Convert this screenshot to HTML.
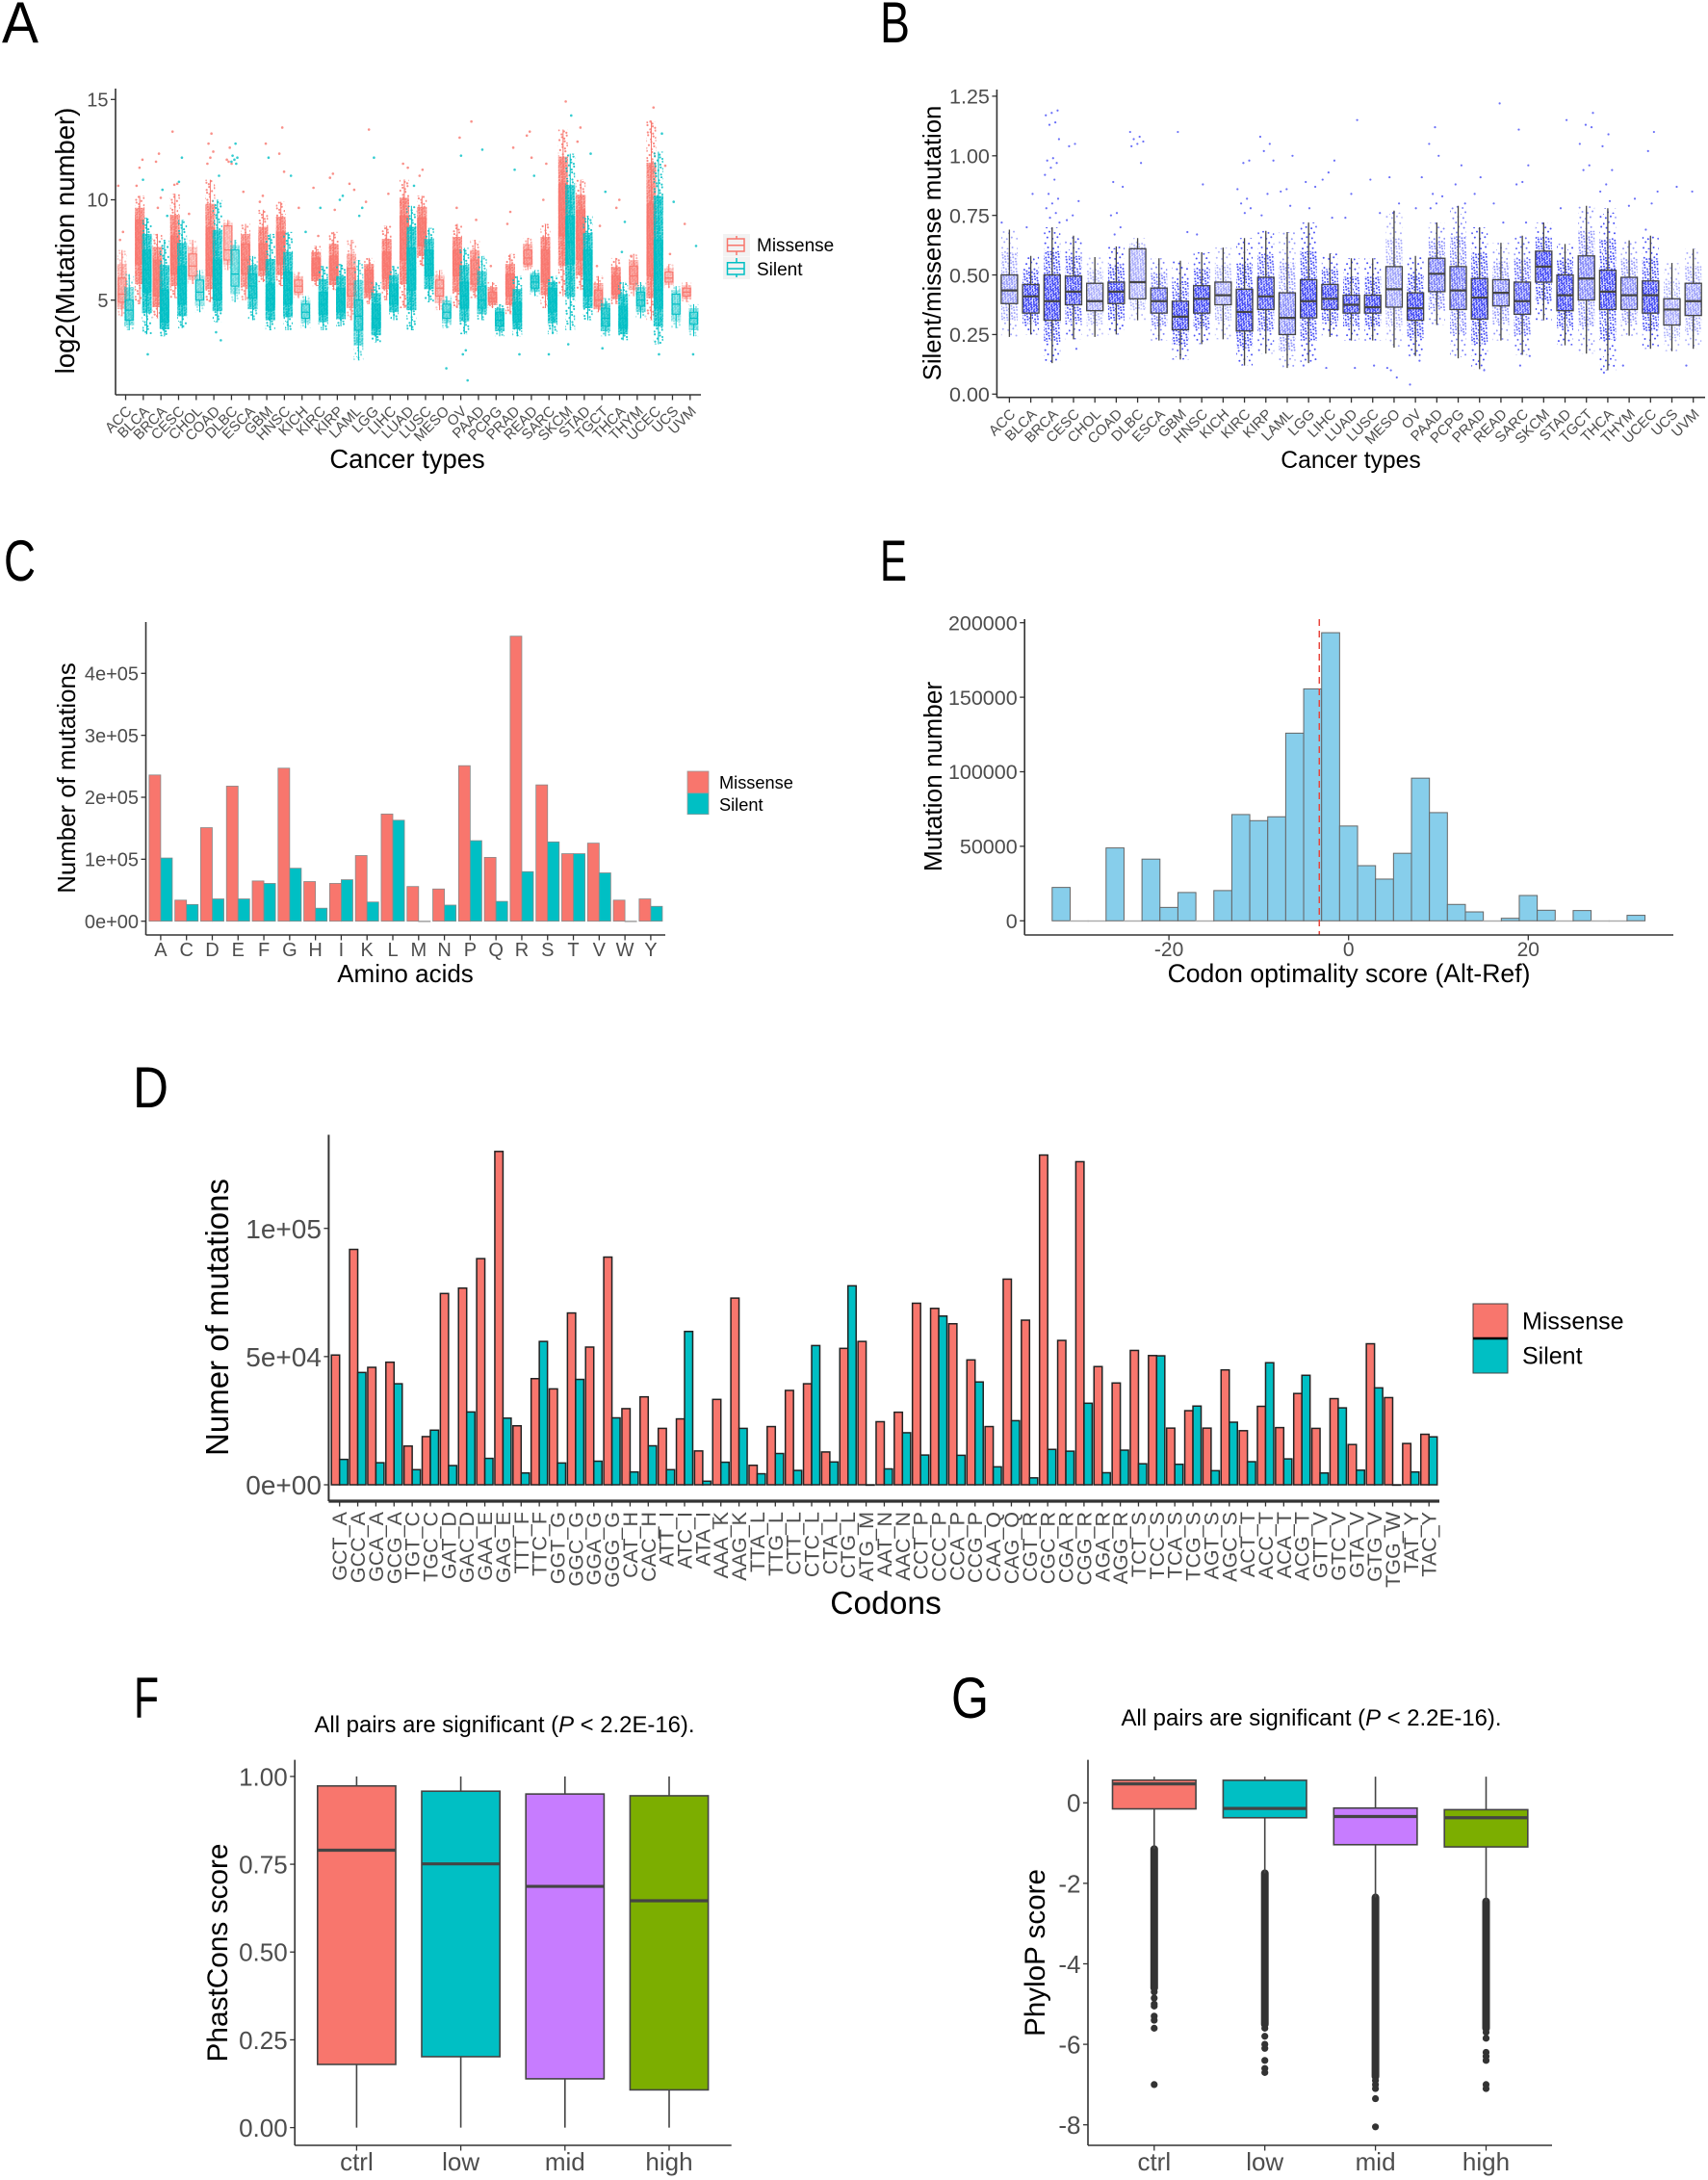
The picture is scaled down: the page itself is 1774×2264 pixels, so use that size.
<!DOCTYPE html>
<html lang="en">
<head>
<meta charset="utf-8">
<title>Mutation analysis figure panels</title>
<style>
html,body{margin:0;padding:0;background:#fff}
svg{display:block;font-family:"Liberation Sans",sans-serif}
</style>
</head>
<body>
<svg id="figure" xmlns="http://www.w3.org/2000/svg" width="1774" height="2264" viewBox="0 0 1774 2264">
<defs id="defs"></defs>
<rect width="1774" height="2264" fill="#fff"/>

<g font-size="60" fill="#000">
<text x="2" y="44" textLength="38" lengthAdjust="spacingAndGlyphs">A</text>
<text x="914" y="44" textLength="31" lengthAdjust="spacingAndGlyphs">B</text>
<text x="4" y="603" textLength="33" lengthAdjust="spacingAndGlyphs">C</text>
<text x="914" y="603" textLength="28" lengthAdjust="spacingAndGlyphs">E</text>
<text x="138" y="1150" textLength="37" lengthAdjust="spacingAndGlyphs">D</text>
<text x="139" y="1784" textLength="26" lengthAdjust="spacingAndGlyphs">F</text>
<text x="988" y="1784" textLength="39" lengthAdjust="spacingAndGlyphs">G</text>
</g>

<g id="panelA">
<text transform="translate(77,250) rotate(-90)" text-anchor="middle" font-size="27.5" fill="#000">log2(Mutation number)</text>
<text x="423" y="486" text-anchor="middle" font-size="27.4" fill="#000">Cancer types</text>
<g>
<rect x="751" y="243" width="28" height="23.5" fill="#f2f2f2"/>
<rect x="751" y="267" width="28" height="23" fill="#f2f2f2"/>
<path d="M765 245V248M765 261V265M755.500 248H773V261H755.500ZM755.500 254.700H773" fill="none" stroke="#F8766D" stroke-width="1.500"/>
<path d="M765 268V272.700M765 285V288M755.500 272.700H773V285H755.500ZM755.500 279H773" fill="none" stroke="#00BFC4" stroke-width="1.500"/>
<text x="786" y="261" font-size="19">Missense</text>
<text x="786" y="286" font-size="19">Silent</text>
</g>
</g>

<g id="panelB">
<text transform="translate(977,252.500) rotate(-90)" text-anchor="middle" font-size="25.700" fill="#000">Silent/missense mutation</text>
<text x="1403" y="486" text-anchor="middle" font-size="24.700" fill="#000">Cancer types</text>
</g>

<g id="panelC">
<text transform="translate(78,808) rotate(-90)" text-anchor="middle" font-size="25.800" fill="#000">Number of mutations</text>
<text x="421" y="1020" text-anchor="middle" font-size="26" fill="#000">Amino acids</text>
<g>
<rect x="714" y="801" width="22" height="22.700" fill="#F8766D" stroke="#999" stroke-width="0.800"/>
<rect x="714" y="823.700" width="22" height="22" fill="#00BFC4" stroke="#999" stroke-width="0.800"/>
<text x="747" y="819" font-size="18.200">Missense</text>
<text x="747" y="842" font-size="18.200">Silent</text>
</g>
</g>

<g id="panelE">
<text transform="translate(978,806.500) rotate(-90)" text-anchor="middle" font-size="26.300" fill="#000">Mutation number</text>
<text x="1401" y="1020" text-anchor="middle" font-size="26.600" fill="#000">Codon optimality score (Alt-Ref)</text>
</g>

<g id="panelD">
<text transform="translate(237,1368) rotate(-90)" text-anchor="middle" font-size="33" fill="#000">Numer of mutations</text>
<text x="920" y="1676" text-anchor="middle" font-size="33.500" fill="#000">Codons</text>
<g>
<rect x="1530" y="1354" width="36" height="36" fill="#F8766D" stroke="#444" stroke-width="1"/>
<rect x="1530" y="1390" width="36" height="36" fill="#00BFC4" stroke="#444" stroke-width="1"/>
<line x1="1530" x2="1566" y1="1390" y2="1390" stroke="#000" stroke-width="2.500"/>
<text x="1581" y="1380.500" font-size="25">Missense</text>
<text x="1581" y="1416.500" font-size="25">Silent</text>
</g>
</g>

<g id="panelF">
<text x="524" y="1799" text-anchor="middle" font-size="23.900" fill="#000">All pairs are significant (<tspan font-style="italic">P</tspan> &lt; 2.2E-16).</text>
<text transform="translate(236,2028) rotate(-90)" text-anchor="middle" font-size="29.800" fill="#000">PhastCons score</text>
</g>

<g id="panelG">
<text x="1362" y="1792" text-anchor="middle" font-size="23.900" fill="#000">All pairs are significant (<tspan font-style="italic">P</tspan> &lt; 2.2E-16).</text>
<text transform="translate(1085,2028) rotate(-90)" text-anchor="middle" font-size="29.600" fill="#000">PhyloP score</text>
</g>
</svg>

<script>
/* ===== Panels A and B: shared categories ===== */
const cancerTypes = ["ACC","BLCA","BRCA","CESC","CHOL","COAD","DLBC","ESCA","GBM","HNSC","KICH","KIRC","KIRP","LAML","LGG","LIHC","LUAD","LUSC","MESO","OV","PAAD","PCPG","PRAD","READ","SARC","SKCM","STAD","TGCT","THCA","THYM","UCEC","UCS","UVM"];
const sampleCounts = [90,400,1000,290,50,400,48,180,390,500,65,360,280,130,500,360,560,480,80,400,170,180,490,130,240,470,430,145,490,120,530,57,80];

/* Panel A: five-number summaries (log2 units) */
const missenseLo  = [4.2,4.8,4.1,5.1,5.8,4.9,6.5,5.0,5.9,5.7,5.1,5.7,5.5,4.0,4.8,5.0,4.6,6.7,4.5,4.6,5.1,4.6,4.3,6.5,4.6,5.2,5.5,4.4,4.8,5.2,4.0,5.6,4.9];
const missenseQ1  = [4.9,6.8,5.2,6.3,6.2,6.2,7.0,6.3,6.5,6.8,5.4,6.2,6.0,5.2,5.4,6.1,7.0,7.7,5.2,6.2,5.8,4.9,5.2,6.8,5.9,8.2,7.0,4.7,5.3,5.8,6.2,5.9,5.2];
const missenseMed = [5.3,8.0,6.0,7.2,6.7,7.0,7.5,7.0,7.0,7.5,5.7,6.6,6.5,5.8,5.9,6.7,8.0,8.4,5.6,6.8,6.3,5.1,5.6,7.1,6.8,9.5,8.0,5.0,5.7,6.2,7.8,6.1,5.4];
const missenseQ3  = [6.1,9.0,7.0,8.2,7.3,8.6,8.7,7.8,7.8,8.4,6.0,7.1,7.2,6.6,6.5,7.4,9.2,9.1,6.0,7.5,7.0,5.4,6.3,7.5,7.5,10.8,9.5,5.5,6.2,6.7,9.8,6.4,5.6];
const missenseHi  = [7.5,10.2,8.3,10.3,8.0,11.0,9.0,8.8,9.5,9.9,6.4,7.7,8.4,8.0,7.1,8.7,11.0,10.2,6.5,8.8,8.0,5.9,7.3,8.1,8.8,13.5,11.0,6.2,7.1,7.3,13.9,6.8,5.9];
const silentLo    = [3.5,3.3,3.2,3.6,4.4,3.9,4.9,4.0,3.5,3.5,3.6,3.5,3.7,2.0,2.9,4.0,3.5,4.9,3.6,3.3,4.0,3.2,3.2,5.2,3.3,3.5,4.0,3.2,3.0,4.1,2.8,3.6,3.2];
const silentQ1    = [4.0,5.4,3.9,4.8,5.0,5.0,5.7,5.1,4.5,4.8,4.1,4.3,4.4,3.5,3.6,4.8,5.5,6.2,4.1,4.6,4.6,3.7,3.9,5.6,4.4,6.8,5.2,3.7,3.6,4.7,4.6,4.3,3.8];
const silentMed   = [4.5,6.5,4.6,5.8,5.4,5.8,6.3,5.7,5.1,5.5,4.4,4.8,4.9,4.2,4.1,5.2,6.5,6.8,4.4,5.2,5.0,4.0,4.3,5.9,4.9,7.9,6.0,4.1,4.1,5.0,5.5,4.8,4.1];
const silentQ3    = [5.0,7.5,5.5,6.7,6.0,7.0,7.5,6.3,5.8,6.4,4.8,5.4,5.6,5.0,4.8,5.8,7.6,7.5,4.8,5.9,5.7,4.4,4.9,6.2,5.6,9.2,7.5,4.6,4.7,5.4,8.0,5.3,4.4];
const silentHi    = [6.3,9.1,8.0,9.0,6.5,10.0,8.0,7.2,8.3,8.4,5.2,6.7,6.8,7.0,5.9,6.7,9.7,8.6,5.2,7.6,7.2,4.8,6.2,6.5,6.2,12.3,9.2,5.1,5.9,5.9,12.4,5.7,4.8];
/* Individually visible outliers: [category index, log2 value] */
const missenseOutliers = [[0,10.7],[0,8.4],[0,8],[1,12],[1,11.6],[1,10.7],[2,12.3],[2,11.9],[2,10.1],[2,9.6],[3,13.4],[3,10.8],[3,10.75],[4,9.3],[5,13.3],[5,12.8],[5,12.4],[5,12.1],[5,11.8],[6,12.6],[6,12],[6,11.8],[6,11.9],[7,10.4],[8,12.8],[8,10.2],[8,9.9],[9,13.6],[9,12.3],[9,11.4],[10,9.6],[11,10.6],[11,8.2],[12,11.3],[12,11.1],[12,9.5],[13,10.8],[13,10.5],[14,13.5],[14,9.9],[15,10.3],[16,11.8],[16,11.6],[17,11.5],[17,11.2],[19,13.1],[19,9.6],[20,13.9],[20,9],[21,6.7],[22,12.6],[22,9.4],[22,8.8],[23,13.4],[23,13.2],[23,12.1],[24,11.8],[24,10],[25,14.9],[26,13.6],[26,12.9],[27,8.7],[27,6.7],[28,10],[28,9.6],[29,7.2],[30,14.6],[30,13.9],[31,11.7],[31,7.3],[32,8.8]];
const silentOutliers = [[1,11],[1,2.3],[2,10.5],[2,9.2],[3,12.1],[3,10.9],[5,11.2],[5,3.4],[5,3],[6,12.8],[6,12.2],[6,12.1],[6,12],[6,11.9],[6,11.8],[8,12.1],[9,11.2],[10,8.4],[11,9.6],[12,10.2],[12,10],[13,9.6],[13,9.2],[14,12.1],[16,10.7],[18,1.6],[19,12.2],[19,2.5],[19,2.3],[19,1],[20,12.5],[22,11.5],[22,2.3],[23,11.2],[24,2.3],[25,14.2],[25,2.8],[26,12.3],[27,10.4],[27,2.6],[28,8.9],[28,7.4],[30,13.3],[30,2.3],[31,9.9],[32,7.7],[32,2.3]];
const panelATicks = [5,10,15];

/* Panel B: box statistics per cancer type (silent / missense ratio) */
const ratioWhiskerLo = [.24,.25,.13,.23,.24,.25,.31,.225,.145,.21,.23,.12,.17,.11,.13,.24,.225,.225,.195,.16,.29,.15,.105,.225,.165,.31,.205,.17,.10,.245,.19,.18,.19];
const ratioQ1        = [.38,.34,.31,.375,.35,.38,.40,.34,.27,.34,.375,.265,.355,.25,.32,.355,.34,.34,.365,.31,.43,.355,.315,.37,.335,.47,.35,.395,.355,.355,.34,.29,.33];
const ratioMedian    = [.435,.41,.39,.43,.39,.43,.47,.39,.325,.40,.415,.345,.41,.32,.39,.40,.375,.365,.44,.36,.505,.435,.405,.425,.39,.535,.415,.485,.43,.415,.415,.355,.39];
const ratioQ3        = [.50,.46,.50,.495,.465,.47,.61,.445,.39,.455,.47,.44,.49,.425,.48,.46,.415,.415,.535,.425,.57,.535,.485,.48,.47,.60,.50,.58,.52,.49,.475,.40,.465];
const ratioWhiskerHi = [.69,.58,.70,.665,.575,.62,.655,.57,.56,.595,.615,.655,.685,.68,.72,.59,.57,.57,.77,.58,.72,.79,.70,.635,.665,.72,.63,.79,.78,.645,.665,.55,.61];
const ratioOutliers = [[0,.72],[1,.84],[1,.70],[2,1.19],[2,1.18],[2,1.17],[2,1.14],[2,1.13],[2,1.07],[2,.99],[2,.98],[2,.97],[2,.95],[2,.92],[2,.90],[2,.84],[2,.82],[2,.80],[2,.78],[2,.76],[2,.74],[2,.72],[3,1.05],[3,1.04],[3,.81],[3,.75],[3,.73],[3,.19],[5,.89],[5,.87],[5,.76],[5,.75],[5,.70],[5,.67],[6,1.10],[6,1.08],[6,1.07],[6,1.06],[6,1.05],[6,1.04],[6,.97],[8,1.10],[8,.68],[9,.88],[9,.67],[11,.98],[11,.97],[11,.86],[11,.82],[11,.80],[11,.78],[11,.76],[12,1.08],[12,1.05],[12,1.02],[12,.98],[12,.84],[12,.75],[13,1.00],[13,.86],[13,.85],[13,.79],[14,.89],[14,.87],[14,.78],[14,.12],[15,.98],[15,.93],[15,.90],[15,.74],[15,.11],[16,1.15],[16,.84],[16,.74],[16,.11],[17,.90],[17,.76],[17,.12],[18,.91],[18,.80],[18,.76],[18,.11],[18,.07],[18,.10],[19,.91],[19,.78],[19,.04],[19,.14],[20,1.12],[20,1.05],[20,1.00],[20,.84],[20,.83],[20,.80],[20,.78],[21,.96],[21,.88],[21,.80],[22,.91],[22,.84],[22,.10],[23,1.22],[23,.80],[23,.72],[24,1.11],[24,.96],[24,.89],[24,.88],[24,.72],[24,.12],[24,.16],[26,1.15],[26,.78],[27,1.12],[27,1.13],[27,1.05],[27,.96],[27,.94],[27,1.18],[28,1.09],[28,1.04],[28,.94],[28,.88],[28,.85],[28,.81],[28,.09],[29,.82],[29,.79],[29,.12],[30,1.10],[30,1.02],[30,.85],[30,.80],[30,.69],[31,.87],[32,.85],[32,.12]];
const panelBTicks = [0,.25,.5,.75,1,1.25];
const panelBTickLabels = ["0.00","0.25","0.50","0.75","1.00","1.25"];

/* Panel C */
const aminoAcids = ["A","C","D","E","F","G","H","I","K","L","M","N","P","Q","R","S","T","V","W","Y"];
const aminoMissense = [236000,34000,151000,218000,65000,247000,64000,61000,106000,173000,56000,52000,251000,103000,460000,220000,109000,126000,34000,36000];
const aminoSilent = [102000,27000,36000,36000,61000,85500,21000,67000,31000,163000,0,26000,130000,32000,80000,128000,109000,78000,0,24000];
const panelCTicks = [0,100000,200000,300000,400000];
const panelCTickLabels = ["0e+00","1e+05","2e+05","3e+05","4e+05"];

/* Panel E */
const binCenters = [-32,-30,-28,-26,-24,-22,-20,-18,-16,-14,-12,-10,-8,-6,-4,-2,0,2,4,6,8,10,12,14,16,18,20,22,24,26,28,30,32];
const binCounts = [22400,0,0,48900,0,41400,9000,19000,0,20300,71300,67200,69800,125900,155600,193300,63600,37000,28000,45300,95700,72600,11000,6000,0,1700,17000,7100,0,6900,0,0,3700];
const medianScore = -3.26;
const panelEYTicks = [0,50000,100000,150000,200000];
const panelEXTicks = [-20,0,20];

/* Panel D */
const codons = ["GCT_A","GCC_A","GCA_A","GCG_A","TGT_C","TGC_C","GAT_D","GAC_D","GAA_E","GAG_E","TTT_F","TTC_F","GGT_G","GGC_G","GGA_G","GGG_G","CAT_H","CAC_H","ATT_I","ATC_I","ATA_I","AAA_K","AAG_K","TTA_L","TTG_L","CTT_L","CTC_L","CTA_L","CTG_L","ATG_M","AAT_N","AAC_N","CCT_P","CCC_P","CCA_P","CCG_P","CAA_Q","CAG_Q","CGT_R","CGC_R","CGA_R","CGG_R","AGA_R","AGG_R","TCT_S","TCC_S","TCA_S","TCG_S","AGT_S","AGC_S","ACT_T","ACC_T","ACA_T","ACG_T","GTT_V","GTC_V","GTA_V","GTG_V","TGG_W","TAT_Y","TAC_Y"];
const codonMissense = [50600,91800,45800,47800,15100,18800,74600,76700,88200,130000,23000,41400,37400,67000,53700,88800,29700,34300,22000,25700,13200,33300,72800,7600,22700,36800,39400,12800,53200,55900,24600,28300,70800,68800,62800,48700,22700,80200,64200,128600,56300,126000,46100,39700,52400,50400,22100,28900,22100,44800,21100,30600,22300,35600,22000,33600,15700,55000,34000,16100,19700];
const codonSilent = [9900,43800,8600,39400,5900,21300,7500,28400,10300,26000,4600,55900,8500,41100,9200,26100,5000,15200,5900,59800,1400,8800,22000,4300,12200,5600,54300,8900,77600,0,6200,20300,11600,65800,11500,40100,7000,25000,2700,13800,13100,31800,4700,13500,8200,50300,8000,30700,5500,24400,9000,47600,10100,42700,4600,30000,5700,37800,0,5000,18700];
const panelDTicks = [0,50000,100000];
const panelDTickLabels = ["0e+00","5e+04","1e+05"];

/* Panels F and G */
const scoreGroups = ["ctrl","low","mid","high"];
const groupColors = ["#F8766D","#00BFC4","#C77CFF","#7CAE00"];
const phastQ1 = [.18,.202,.139,.1075];
const phastMedian = [.79,.751,.687,.646];
const phastQ3 = [.973,.958,.95,.945];
const phastWhiskerLo = [0,0,0,0];
const phastWhiskerHi = [1,1,1,1];
const panelFTicks = [0,.25,.5,.75,1];
const panelFTickLabels = ["0.00","0.25","0.50","0.75","1.00"];

const phyloQ1 = [-.15,-.37,-1.04,-1.095];
const phyloMedian = [.47,-.14,-.34,-.37];
const phyloQ3 = [.564,.56,-.13,-.17];
const phyloWhiskerHi = [.65,.65,.65,.65];
const phyloWhiskerLo = [-1.15,-1.75,-2.35,-2.45];
const phyloDenseBottom = [-4.6,-5.5,-6.8,-5.6];
const phyloOutliers = [[-4.7,-4.85,-5,-5.05,-5.3,-5.4,-5.6,-7],[-5.6,-5.8,-6,-6.1,-6.4,-6.6,-6.7],[-6.9,-7,-7.1,-7.35,-8.05],[-5.7,-5.85,-6.2,-6.3,-6.4,-7,-7.1]];
const panelGTicks = [-8,-6,-4,-2,0];

/* ===== Drawing helpers ===== */
const SVGNS = "http://www.w3.org/2000/svg";
const TICK_GREY = "#4d4d4d";
const AXIS_DARK = "#333";

function make(parent, tag, attrs, text) {
  const node = document.createElementNS(SVGNS, tag);
  for (const key in attrs) node.setAttribute(key, attrs[key]);
  if (text !== undefined) node.textContent = text;
  parent.appendChild(node);
  return node;
}
function linear(d0, d1, r0, r1) {
  return function (v) { return r0 + (v - d0) * (r1 - r0) / (d1 - d0); };
}
function drawAxisLines(g, x0, yTop, yBottom, xEnd, width, xWidth) {
  const yAxis = make(g, "line", {x1:x0, x2:x0, y1:yTop, y2:yBottom, stroke:AXIS_DARK, "stroke-width":width});
  
  
  const xAxis = make(g, "line", {x1:x0, x2:xEnd, y1:yBottom, y2:yBottom, stroke:AXIS_DARK, "stroke-width":xWidth || width});
  
  
}
function drawYTicks(g, ticks, labels, y, axisX, size) {
  ticks.forEach(function (t, i) {
    const mark = make(g, "line", {x1:axisX - 5, x2:axisX, y1:y(t), y2:y(t), stroke:AXIS_DARK, "stroke-width":1.3});
    
    
    const label = make(g, "text", {x:axisX - 7.5, y:y(t) + size * 0.36, "text-anchor":"end", "font-size":size, fill:TICK_GREY}, labels[i]);
    
    
  });
}
function drawXTicks(g, positions, labels, x, axisY, size, baselineY, rotation, endOffset) {
  positions.forEach(function (p, i) {
    const mark = make(g, "line", {x1:x(p), x2:x(p), y1:axisY, y2:axisY + 5.5, stroke:AXIS_DARK, "stroke-width":1.3});
    
    
    const attrs = {"font-size":size, fill:TICK_GREY};
    if (rotation) {
      attrs["text-anchor"] = "end";
      attrs.transform = "translate(" + (x(p) + endOffset) + "," + baselineY + ") rotate(" + rotation + ")";
    } else {
      attrs["text-anchor"] = "middle";
      attrs.x = x(p);
      attrs.y = baselineY;
    }
    const label = make(g, "text", attrs, labels[i]);
    
    
  });
}

/* Dot texture tiles: purely decorative fill for the jitter strips (not data). */
function makeTexture(id, color, dots, radius, size) {
  const defs = document.getElementById("defs");
  const pattern = make(defs, "pattern", {id:id, patternUnits:"userSpaceOnUse", width:size, height:size});
  for (let k = 0; k < dots; k++) {
    make(pattern, "circle", {cx:((k * 0.754877) % 1) * size, cy:((k * 0.569840) % 1) * size, r:radius, fill:color, "fill-opacity":0.85});
  }
}
makeTexture("red-core", "#F8766D", 300, 1.1, 37);
makeTexture("red-mid", "#F8766D", 220, 1.1, 37);
makeTexture("red-tail", "#F8766D", 90, 1.1, 37);
makeTexture("teal-core", "#00BFC4", 300, 1.1, 37);
makeTexture("teal-mid", "#00BFC4", 220, 1.1, 37);
makeTexture("teal-tail", "#00BFC4", 90, 1.1, 37);
makeTexture("blue-core", "#2a32f5", 300, 1, 37);
makeTexture("blue-mid", "#2a32f5", 150, 1, 37);
makeTexture("blue-tail", "#2a32f5", 45, 1, 37);

/* One jitter strip: five density bands between lo, q1, q3 and hi, with a tinted underlay in the inner bands. */
function drawStrip(g, prefix, color, solidCore, solidMid, xCenter, halfWidth, y, lo, q1, q3, hi, density) {
  const bands = [
    [lo, (lo + q1) / 2, "tail", 0],
    [(lo + q1) / 2, q1, "mid", solidMid],
    [q1, q3, "core", solidCore],
    [q3, (q3 + hi) / 2, "mid", solidMid],
    [(q3 + hi) / 2, hi, "tail", 0]
  ];
  bands.forEach(function (b) {
    const top = y(b[1]);
    const h = Math.max(0, y(b[0]) - top);
    if (b[3] > 0) {
      const tint = make(g, "rect", {x:xCenter - halfWidth, width:halfWidth * 2, y:top, height:h, fill:color, opacity:b[3] * density});
      
      
    }
    const band = make(g, "rect", {x:xCenter - halfWidth, width:halfWidth * 2, y:top, height:h, fill:"url(#" + prefix + "-" + b[2] + ")", opacity:density});
    
    
  });
}
function densityOf(n, base, scale) {
  return Math.min(1, base + n / scale);
}
function drawBox(g, xCenter, boxWidth, y, whiskerLo, q1, med, q3, whiskerHi, stroke, fill, lineWidth, medianWidth) {
  const whiskers = make(g, "path", {d:"M" + xCenter + " " + y(whiskerHi) + "V" + y(q3) + "M" + xCenter + " " + y(q1) + "V" + y(whiskerLo), stroke:stroke, "stroke-width":lineWidth, fill:"none"});
  
  
  const box = make(g, "rect", {x:xCenter - boxWidth / 2, width:boxWidth, y:y(q3), height:y(q1) - y(q3), stroke:stroke, "stroke-width":lineWidth, fill:fill});
  
  
  const median = make(g, "line", {x1:xCenter - boxWidth / 2, x2:xCenter + boxWidth / 2, y1:y(med), y2:y(med), stroke:stroke, "stroke-width":medianWidth});
  
  
}
function drawBarPair(g, x, y, i, step, missValue, silentValue, stroke, strokeWidth) {
  const w = step * 0.45;
  const missBar = make(g, "rect", {x:x(i) - w, y:y(missValue), width:w, height:Math.max(0.4, y(0) - y(missValue)), fill:"#F8766D", stroke:stroke, "stroke-width":strokeWidth});
  
  
  const silentBar = make(g, "rect", {x:x(i), y:y(silentValue), width:w, height:Math.max(0.4, y(0) - y(silentValue)), fill:"#00BFC4", stroke:stroke, "stroke-width":strokeWidth});
  
  
}

/* ===== Panel A ===== */
(function () {
  const g = document.getElementById("panelA");
  const x = linear(0, 32, 130.5, 716.8);
  const y = linear(5, 10, 311.7, 207.5);
  const dodge = 3.7;
  function series(prefix, color, offset, lo, q1, med, q3, hi, outliers, name) {
    const layer = make(g, "g", {});
    
    
    cancerTypes.forEach(function (c, i) {
      const cx = x(i) + offset;
      drawBox(layer, cx, 8, y, lo[i], q1[i], med[i], q3[i], hi[i], color, "none", 1, 1.2);
      drawStrip(layer, prefix, color, 0.85, 0.6, cx, 5, y, lo[i], q1[i], q3[i], hi[i], densityOf(sampleCounts[i], 0.25, 300));
    });
    outliers.forEach(function (o, k) {
      const dot = make(layer, "circle", {cx:x(o[0]) + offset + ((k * 0.618) % 1 - 0.5) * 8, cy:y(o[1]), r:1.3, fill:color, "fill-opacity":0.8});
      
      
    });
  }
  series("red", "#F8766D", -dodge, missenseLo, missenseQ1, missenseMed, missenseQ3, missenseHi, missenseOutliers, "missense-series");
  series("teal", "#00BFC4", dodge, silentLo, silentQ1, silentMed, silentQ3, silentHi, silentOutliers, "silent-series");
  drawAxisLines(g, 120, 92, 410, 728, 1.6);
  drawYTicks(g, panelATicks, panelATicks.map(String), y, 120, 20);
  drawXTicks(g, cancerTypes.map(function (c, i) { return i; }), cancerTypes, x, 410, 15, 428, -45, 7);
})();

/* ===== Panel B ===== */
(function () {
  const g = document.getElementById("panelB");
  const x = linear(0, 32, 1048.4, 1758.7);
  const y = linear(0, 1, 409.3, 161.8);
  cancerTypes.forEach(function (c, i) {
    drawStrip(g, "blue", "#2a32f5", 0.15, 0.03, x(i), 8.5, y, ratioWhiskerLo[i], ratioQ1[i], ratioQ3[i], ratioWhiskerHi[i], densityOf(sampleCounts[i], 0.3, 450));
  });
  ratioOutliers.forEach(function (o, k) {
    const dot = make(g, "circle", {cx:x(o[0]) + ((k * 0.618) % 1 - 0.5) * 16, cy:y(o[1]), r:1.1, fill:"#2a32f5", "fill-opacity":0.7});
    
    
  });
  cancerTypes.forEach(function (c, i) {
    drawBox(g, x(i), 17, y, ratioWhiskerLo[i], ratioQ1[i], ratioMedian[i], ratioQ3[i], ratioWhiskerHi[i], "#444", "none", 1.3, 2.2);
  });
  drawAxisLines(g, 1035.4, 93, 412.7, 1771, 1.6);
  drawYTicks(g, panelBTicks, panelBTickLabels, y, 1035.4, 21.5);
  drawXTicks(g, cancerTypes.map(function (c, i) { return i; }), cancerTypes, x, 412.7, 15, 431, -45, 7);
})();

/* ===== Panel C ===== */
(function () {
  const g = document.getElementById("panelC");
  const step = (675.9 - 166.9) / 19;
  const x = linear(0, 19, 166.9, 675.9);
  const y = linear(0, 100000, 956.7, 892.35);
  aminoAcids.forEach(function (a, i) {
    drawBarPair(g, x, y, i, step, aminoMissense[i], aminoSilent[i], "#8a8a8a", 0.8);
  });
  drawAxisLines(g, 151.5, 646, 971, 691, 1.6);
  drawYTicks(g, panelCTicks, panelCTickLabels, y, 151.5, 20);
  drawXTicks(g, aminoAcids.map(function (a, i) { return i; }), aminoAcids, x, 971, 20, 993, 0, 0);
})();

/* ===== Panel E ===== */
(function () {
  const g = document.getElementById("panelE");
  const x = linear(0, 20, 1400.7, 1587.3);
  const y = linear(0, 50000, 956.3, 878.9);
  binCenters.forEach(function (c, i) {
    const bar = make(g, "rect", {x:x(c - 1), width:x(c + 1) - x(c - 1), y:y(binCounts[i]), height:Math.max(0.4, y(0) - y(binCounts[i])), fill:"#87CEEB", stroke:binCounts[i] ? "#666" : "#aaa", "stroke-width":1});
    
    
  });
  const marker = make(g, "line", {x1:x(medianScore), x2:x(medianScore), y1:643, y2:971, stroke:"#e8453c", "stroke-width":1.5, "stroke-dasharray":"7 5"});
  
  
  drawAxisLines(g, 1064.2, 643, 971, 1738, 1.6);
  drawYTicks(g, panelEYTicks, panelEYTicks.map(String), y, 1064.2, 21.5);
  drawXTicks(g, panelEXTicks, panelEXTicks.map(String), x, 971, 21, 993, 0, 0);
})();

/* ===== Panel D ===== */
(function () {
  const g = document.getElementById("panelD");
  const step = (1484.2 - 352.7) / 60;
  const x = linear(0, 60, 352.7, 1484.2);
  const y = linear(0, 50000, 1542, 1408.85);
  codons.forEach(function (c, i) {
    drawBarPair(g, x, y, i, step, codonMissense[i], codonSilent[i], "#222", 1.5);
  });
  drawAxisLines(g, 341.4, 1178.5, 1559, 1495, 2, 3.2);
  drawYTicks(g, panelDTicks, panelDTickLabels, y, 341.4, 28);
  drawXTicks(g, codons.map(function (c, i) { return i; }), codons, x, 1559, 21.5, 1570, -90, 7.5);
})();

/* ===== Panel F ===== */
(function () {
  const g = document.getElementById("panelF");
  const x = linear(0, 3, 370.4, 695);
  const y = linear(0, 1, 2209.6, 1844.9);
  scoreGroups.forEach(function (name, i) {
    drawBox(g, x(i), 81.2, y, phastWhiskerLo[i], phastQ1[i], phastMedian[i], phastQ3[i], phastWhiskerHi[i], "#444", groupColors[i], 1.6, 3.2);
  });
  drawAxisLines(g, 306.2, 1827.6, 2228, 759.7, 1.6);
  drawYTicks(g, panelFTicks, panelFTickLabels, y, 306.2, 26);
  drawXTicks(g, scoreGroups.map(function (n, i) { return i; }), scoreGroups, x, 2228, 26, 2254, 0, 0);
})();

/* ===== Panel G ===== */
(function () {
  const g = document.getElementById("panelG");
  const x = linear(0, 3, 1198.8, 1543.5);
  const y = linear(0, -2, 1872.3, 1955.9);
  scoreGroups.forEach(function (name, i) {
    const dense = make(g, "line", {x1:x(i), x2:x(i), y1:y(phyloWhiskerLo[i]), y2:y(phyloDenseBottom[i]), stroke:"#333", "stroke-width":8, "stroke-linecap":"round"});
    
    
    phyloOutliers[i].forEach(function (v) {
      const dot = make(g, "circle", {cx:x(i), cy:y(v), r:3.6, fill:"#333"});
      
      
    });
    drawBox(g, x(i), 86.6, y, phyloWhiskerLo[i], phyloQ1[i], phyloMedian[i], phyloQ3[i], phyloWhiskerHi[i], "#444", groupColors[i], 1.6, 3.2);
  });
  drawAxisLines(g, 1130, 1827.6, 2228, 1612, 1.6);
  drawYTicks(g, panelGTicks, panelGTicks.map(String), y, 1130, 26);
  drawXTicks(g, scoreGroups.map(function (n, i) { return i; }), scoreGroups, x, 2228, 26, 2254, 0, 0);
})();
</script>
</body>
</html>
